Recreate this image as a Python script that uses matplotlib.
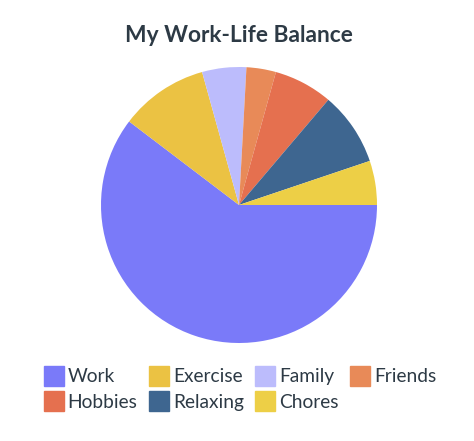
import matplotlib
matplotlib.use('Agg')
import matplotlib.pyplot as plt
from matplotlib.lines import Line2D

# hours per week
labels = ['Work', 'Exercise', 'Family', 'Friends', 'Hobbies', 'Relaxing', 'Chores']
hours = [35, 6, 3, 2, 4, 5, 3]
colors = ['#7a7af9', '#ebc243', '#bcbcfc', '#e88a58', '#e5704f', '#3e6690', '#edcf46']

plt.rcParams['font.family'] = ['Lato', 'DejaVu Sans']
text_color = '#2d3a45'

W, H = 474, 441
fig = plt.figure(figsize=(W / 100, H / 100), dpi=100)
fig.patch.set_facecolor('white')

# pie centre at (239, 205) px, radius 138 px
cx, cy, r = 239, 205, 138
ax = fig.add_axes([(cx - r) / W, (H - cy - r) / H, 2 * r / W, 2 * r / H])
ax.pie(hours, colors=colors, startangle=0, counterclock=False,
       wedgeprops={'linewidth': 0})
ax.set_xlim(-1, 1)
ax.set_ylim(-1, 1)
ax.set_aspect('equal')
ax.axis('off')

fig.text(cx / W, 1 - 36 / H, 'My Work-Life Balance', ha='center', va='center',
         fontsize=16.4, fontweight='bold', color=text_color)

# legend fills column by column, so reorder to read row by row
order = [0, 4, 1, 5, 2, 6, 3]
handles = [Line2D([], [], marker='s', linestyle='none', markersize=14.5,
                  markerfacecolor=colors[i], markeredgecolor=colors[i]) for i in order]
leg = fig.legend(handles, [labels[i] for i in order], ncol=4, loc='upper center',
                 bbox_to_anchor=(240 / W, 1 - 351 / H), frameon=False,
                 fontsize=13.8, handletextpad=0.2, columnspacing=0.6,
                 handlelength=1.05, labelspacing=0.45)
for t in leg.get_texts():
    t.set_color(text_color)

fig.savefig('out.png', dpi=100, facecolor='white')
